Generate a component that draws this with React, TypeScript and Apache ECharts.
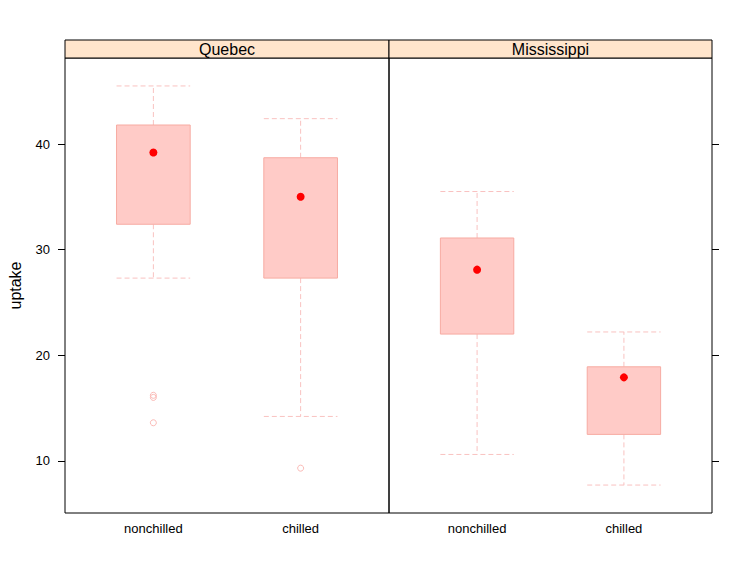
import React, { useEffect, useRef } from "react";
import * as echarts from "echarts";

// panels (Type) and categories (Treatment)
const types = ["Quebec", "Mississippi"];
const treatments = ["nonchilled", "chilled"];

// box stats per treatment: [low whisker, lower hinge, median, upper hinge, high whisker]
const quebecStats = [
  [27.3, 32.4, 39.2, 41.8, 45.5],
  [14.2, 27.3, 35.0, 38.7, 42.4],
];
const mississippiStats = [
  [10.6, 22.0, 28.1, 31.1, 35.5],
  [7.7, 12.5, 17.9, 18.9, 22.2],
];

// outliers: [treatment position, uptake]
const quebecOutliers = [
  [1, 16.0],
  [1, 16.2],
  [1, 13.6],
  [2, 9.3],
];
const mississippiOutliers: number[][] = [];

const yTicks = [10, 20, 30, 40];
const yMin = 5.054;
const yMax = 48.146;

const FONT = "Liberation Sans, Arial, sans-serif";
const BOX_FILL = "#ffcbc7";
const BOX_EDGE = "#f7aba2";
const WHISKER = "#f9c2c0";
const OUTLIER = "#fbbab6";

const renderBox = (params: any, api: any) => {
  const x = api.value(0);
  const low = api.value(1);
  const q1 = api.value(2);
  const q3 = api.value(3);
  const high = api.value(4);
  const hw = api.size([0.5, 0])[0] / 2;
  const pLow = api.coord([x, low]);
  const pQ1 = api.coord([x, q1]);
  const pQ3 = api.coord([x, q3]);
  const pHigh = api.coord([x, high]);
  const dashed = { stroke: WHISKER, lineWidth: 1, lineDash: [5, 3], fill: null };
  return {
    type: "group",
    children: [
      { type: "line", shape: { x1: pQ3[0], y1: pQ3[1], x2: pHigh[0], y2: pHigh[1] }, style: dashed },
      { type: "line", shape: { x1: pHigh[0] - hw, y1: pHigh[1], x2: pHigh[0] + hw, y2: pHigh[1] }, style: dashed },
      { type: "line", shape: { x1: pQ1[0], y1: pQ1[1], x2: pLow[0], y2: pLow[1] }, style: dashed },
      { type: "line", shape: { x1: pLow[0] - hw, y1: pLow[1], x2: pLow[0] + hw, y2: pLow[1] }, style: dashed },
      {
        type: "rect",
        shape: { x: pQ3[0] - hw, y: pQ3[1], width: hw * 2, height: pQ1[1] - pQ3[1] },
        style: { fill: BOX_FILL, stroke: BOX_EDGE, lineWidth: 1 },
      },
    ],
  };
};

const App = () => {
  const chartRef = useRef(null);

  useEffect(() => {
    const chart = echarts.init(chartRef.current, null, { renderer: "svg" });

    const panels = [quebecStats, mississippiStats];
    const outliers = [quebecOutliers, mississippiOutliers];
    const grids = [
      { left: 65, top: 58, width: 324, height: 455 },
      { left: 389, top: 58, width: 323, height: 455 },
    ];

    const series: any[] = [];
    panels.forEach((stats, i) => {
      series.push({
        type: "custom",
        xAxisIndex: i,
        yAxisIndex: i,
        renderItem: renderBox,
        encode: { x: 0, y: [1, 2, 3, 4] },
        data: stats.map((s, j) => [j + 1, s[0], s[1], s[3], s[4]]),
        z: 2,
      });
      series.push({
        type: "scatter",
        xAxisIndex: i,
        yAxisIndex: i,
        symbol: "circle",
        symbolSize: 8,
        itemStyle: { color: "#ff0000", opacity: 1 },
        data: stats.map((s, j) => [j + 1, s[2]]),
        z: 3,
      });
      series.push({
        type: "scatter",
        xAxisIndex: i,
        yAxisIndex: i,
        symbol: "circle",
        symbolSize: 6,
        itemStyle: { color: "rgba(255,255,255,0)", borderColor: OUTLIER, borderWidth: 1, opacity: 1 },
        data: outliers[i],
        z: 3,
      });
    });

    const stripGraphics: any[] = [];
    grids.forEach((g, i) => {
      stripGraphics.push({
        type: "rect",
        shape: { x: g.left, y: 40, width: g.width, height: 18 },
        style: { fill: "#ffe5cc", stroke: "#000", lineWidth: 1 },
      });
      stripGraphics.push({
        type: "text",
        x: g.left + g.width / 2,
        y: 49,
        style: {
          text: types[i],
          fill: "#000",
          font: `16px ${FONT}`,
          align: "center",
          verticalAlign: "middle",
        },
      });
    });

    chart.setOption({
      animation: false,
      backgroundColor: "#fff",
      grid: grids.map((g) => ({ ...g, show: true, borderColor: "#000", borderWidth: 1, backgroundColor: "transparent" })),
      xAxis: grids.map((_, i) => ({
        type: "value",
        gridIndex: i,
        min: 0.4,
        max: 2.6,
        axisLine: { show: false },
        axisTick: { show: false },
        splitLine: { show: false },
        axisLabel: {
          customValues: [1, 2],
          formatter: (v: number) => treatments[Math.round(v) - 1] ?? "",
          fontFamily: FONT,
          fontSize: 13,
          color: "#000",
          margin: 9,
        },
      })),
      yAxis: grids.map((_, i) => ({
        type: "value",
        gridIndex: i,
        position: i === 0 ? "left" : "right",
        min: yMin,
        max: yMax,
        name: i === 0 ? "uptake" : "",
        nameLocation: "middle",
        nameGap: 42,
        nameRotate: 90,
        nameTextStyle: { fontFamily: FONT, fontSize: 16, color: "#000" },
        axisLine: { show: false },
        splitLine: { show: false },
        axisTick: {
          show: true,
          customValues: yTicks,
          length: 7,
          lineStyle: { color: "#000" },
        },
        axisLabel: {
          show: i === 0,
          customValues: yTicks,
          fontFamily: FONT,
          fontSize: 13,
          color: "#000",
          margin: 15,
        },
      })),
      graphic: stripGraphics,
      series,
    });

    return () => chart.dispose();
  }, []);

  return (
    <div
      ref={chartRef}
      style={{ position: "absolute", left: 0, top: 0, width: "751px", height: "564px" }}
    />
  );
};

export default App;
